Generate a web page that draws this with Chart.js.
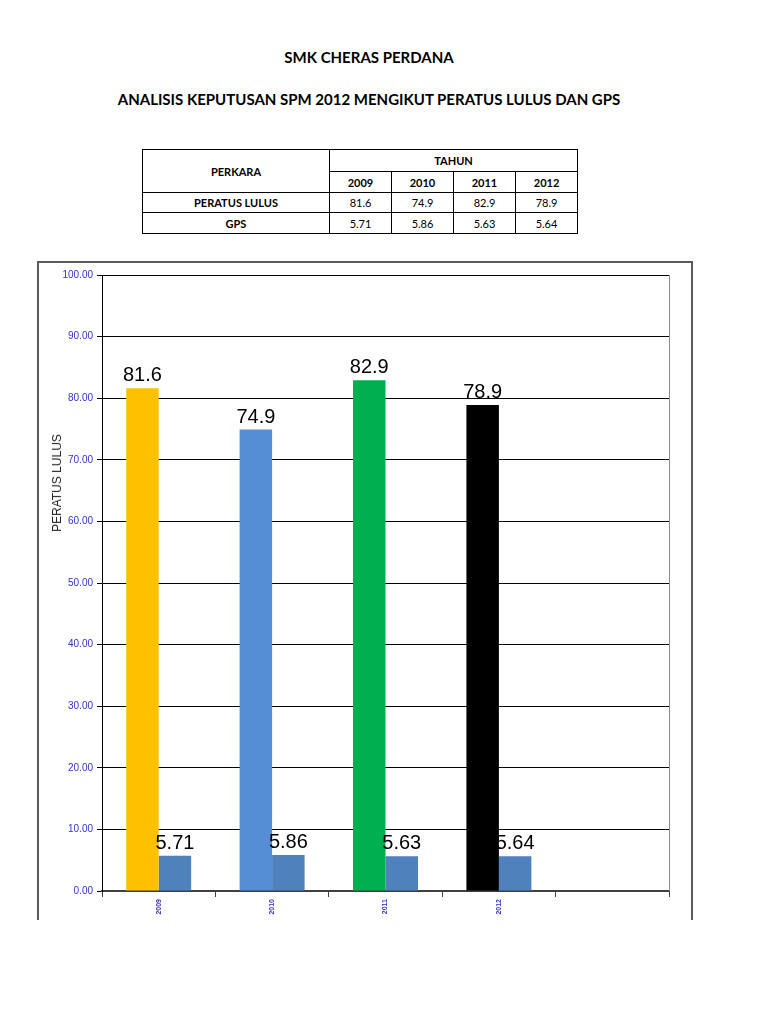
<!DOCTYPE html>
<html>
<head>
<meta charset="utf-8">
<script src="https://cdn.jsdelivr.net/npm/chart.js@4"></script>
<style>
  body { margin: 0; background: #fff; width: 768px; height: 1024px; position: relative; font-family: Lato, "Open Sans", sans-serif; }
  .title { position: absolute; left: 0; width: 738px; text-align: center; font-weight: bold; font-size: 15px; color: #000; }
  #t1 { top: 48px; }
  #t2 { top: 90px; }
  table { position: absolute; left: 142px; top: 149px; width: 436px; border-collapse: collapse; font-size: 11px; table-layout: fixed; }
  td { border: 1px solid #000; text-align: center; padding: 0; }
  .b { font-weight: bold; }
  #box { position: absolute; left: 37px; top: 261px; width: 652px; height: 657px; border: 2px solid #5a5a5a; border-bottom: none; }
  #wrap { position: absolute; left: 39px; top: 263px; width: 652px; height: 655px; }
  #ytitle { position: absolute; left: 57px; top: 483px; transform: translate(-50%, -50%) rotate(-90deg); font-family: Arial, "Liberation Sans", sans-serif; font-size: 12px; color: #222; white-space: nowrap; }
</style>
</head>
<body>
<div class="title" id="t1">SMK CHERAS PERDANA</div>
<div class="title" id="t2">ANALISIS KEPUTUSAN SPM 2012 MENGIKUT PERATUS LULUS DAN GPS</div>
<table id="tbl"></table>
<div id="box"></div>
<div id="wrap"><canvas id="myChart" width="652" height="655"></canvas></div>
<div id="ytitle">PERATUS LULUS</div>
<script>
// data
const years = ['2009', '2010', '2011', '2012', ''];
const peratusLulus = [81.6, 74.9, 82.9, 78.9, null];
const gps = [5.71, 5.86, 5.63, 5.64, null];
const lulusColors = ['#FFC000', '#558ED5', '#00B050', '#000000', '#000000'];
const gpsColor = '#4F81BD';

// build the table from the same arrays
const tbl = document.getElementById('tbl');
const tblYears = years.filter(y => y !== '');
let html = '<colgroup><col style="width:187px">' + tblYears.map(() => '<col style="width:62px">').join('') + '</colgroup>';
html += '<tr style="height:22px"><td class="b" rowspan="2">PERKARA</td><td class="b" colspan="' + tblYears.length + '">TAHUN</td></tr>';
html += '<tr style="height:21px">' + tblYears.map(y => '<td class="b">' + y + '</td>').join('') + '</tr>';
html += '<tr style="height:20px"><td class="b">PERATUS LULUS</td>' + tblYears.map((y, i) => '<td>' + peratusLulus[i] + '</td>').join('') + '</tr>';
html += '<tr style="height:21px"><td class="b">GPS</td>' + tblYears.map((y, i) => '<td>' + gps[i].toFixed(2) + '</td>').join('') + '</tr>';
tbl.innerHTML = html;

// value labels above the bars
const valueLabels = {
  id: 'valueLabels',
  afterDatasetsDraw(chart) {
    const ctx = chart.ctx;
    ctx.save();
    ctx.font = '20px Arial, "Liberation Sans", sans-serif';
    ctx.fillStyle = '#000';
    ctx.textAlign = 'center';
    ctx.textBaseline = 'alphabetic';
    chart.data.datasets.forEach((ds, di) => {
      chart.getDatasetMeta(di).data.forEach((bar, i) => {
        if (ds.data[i] == null) return;
        ctx.fillText(String(ds.data[i]), bar.x, bar.y - 7);
      });
    });
    ctx.restore();
  }
};

// thin grey line on the right of the plot area
const rightEdge = {
  id: 'rightEdge',
  afterDraw(chart) {
    const a = chart.chartArea;
    const ctx = chart.ctx;
    ctx.save();
    ctx.strokeStyle = '#8c8c8c';
    ctx.lineWidth = 1;
    ctx.beginPath();
    ctx.moveTo(a.right + 0.5, a.top);
    ctx.lineTo(a.right + 0.5, a.bottom);
    ctx.stroke();
    ctx.restore();
  }
};

new Chart(document.getElementById('myChart'), {
  type: 'bar',
  data: {
    labels: years,
    datasets: [
      { label: 'PERATUS LULUS', data: peratusLulus, backgroundColor: lulusColors, borderWidth: 0 },
      { label: 'GPS', data: gps, backgroundColor: gpsColor, borderWidth: 0 }
    ]
  },
  options: {
    responsive: false,
    animation: false,
    layout: { padding: { top: 12, right: 22, left: 0, bottom: 0 } },
    categoryPercentage: 0.573,
    barPercentage: 1.0,
    plugins: { legend: { display: false }, tooltip: { enabled: false } },
    scales: {
      x: {
        afterFit(scale) { scale.height = 27; },
        grid: { drawOnChartArea: false, color: '#404040', tickLength: 6 },
        border: { color: '#404040', width: 2 },
        ticks: {
          color: '#3333CC',
          font: { size: 7, family: 'Arial', weight: 'bold' },
          minRotation: 90,
          maxRotation: 90,
          padding: 2
        }
      },
      y: {
        min: 0,
        max: 100,
        afterFit(scale) { scale.width = 63; },
        grid: { color: '#000', lineWidth: 1, tickLength: 5 },
        border: { color: '#000', width: 1 },
        ticks: {
          stepSize: 10,
          color: '#3333CC',
          font: { size: 10, family: 'Arial' },
          padding: 4,
          callback: v => v.toFixed(2)
        }
      }
    }
  },
  plugins: [valueLabels, rightEdge]
});
</script>
</body>
</html>
